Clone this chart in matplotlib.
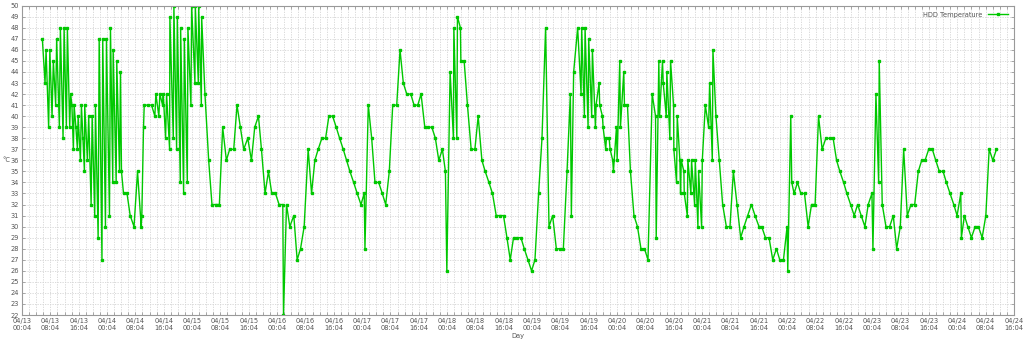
import matplotlib
matplotlib.use("Agg")
import matplotlib.pyplot as plt
from matplotlib.ticker import MultipleLocator, FuncFormatter
from datetime import datetime, timedelta

# hours since 04/13 00:04
hours = [5.74, 6.50, 6.79, 7.52, 7.86, 8.48, 8.85, 9.50, 9.78, 10.55, 10.83, 11.59, 11.88,
         12.53, 12.81, 13.46, 13.74, 14.08, 14.51, 14.71, 15.21, 15.64, 15.84, 16.49, 16.77,
         17.19, 17.62, 17.70, 18.47, 18.83, 19.51, 19.80, 20.53, 20.73, 21.49, 21.78, 22.57,
         22.79, 23.56, 23.84, 24.69, 24.97, 25.62, 25.73, 26.58, 26.75, 27.52, 27.80, 28.08,
         28.65, 29.64, 30.54, 31.62, 32.61, 33.65, 33.82, 34.30, 34.50, 35.63, 36.57, 37.50,
         37.78, 38.63, 38.91, 39.68, 39.87, 40.53, 40.81, 41.66, 41.74, 42.70, 42.87, 43.64,
         43.83, 44.68, 44.77, 45.62, 45.81, 46.66, 46.83, 47.68, 47.88, 48.81, 48.92, 49.77,
         49.86, 50.62, 50.71, 51.64, 52.69, 53.62, 54.67, 55.71, 56.64, 57.69, 58.62, 59.76,
         60.69, 61.65, 62.58, 63.72, 64.76, 65.69, 66.74, 67.59, 68.61, 69.57, 70.50, 71.55,
         72.57, 73.61, 73.81, 74.66, 75.59, 76.72, 77.66, 78.62, 79.64, 80.77, 81.73, 82.66,
         83.60, 84.64, 85.69, 86.62, 87.67, 88.69, 89.65, 90.67, 91.63, 92.56, 93.61, 94.62,
         95.67, 96.60, 96.80, 97.74, 98.70, 99.63, 100.68, 101.69, 102.66, 103.67, 104.64,
         105.77, 106.70, 107.63, 108.60, 109.73, 110.66, 111.71, 112.64, 113.69, 114.70,
         115.67, 116.68, 117.64, 118.66, 119.51, 119.91, 120.84, 121.77, 121.89, 122.74,
         122.91, 123.75, 123.87, 124.80, 125.73, 126.78, 127.83, 128.76, 129.81, 130.74,
         131.79, 132.80, 133.85, 134.90, 135.91, 136.88, 137.81, 138.74, 139.79, 140.83,
         141.77, 142.81, 143.83, 144.79, 145.81, 146.77, 147.79, 148.75, 149.77, 150.82,
         151.75, 152.80, 153.84, 154.78, 155.06, 155.71, 156.84, 157.80, 157.97, 158.74,
         158.93, 159.78, 159.95, 160.80, 161.00, 161.85, 162.04, 162.89, 163.06, 163.83,
         164.02, 164.76, 164.96, 165.72, 166.00, 166.74, 166.94, 167.79, 167.98, 168.72,
         168.92, 169.85, 170.05, 170.90, 171.74, 172.73, 173.72, 174.71, 175.70, 176.69,
         177.88, 178.82, 179.01, 179.75, 179.95, 180.79, 180.99, 181.84, 182.01, 182.86,
         183.06, 183.90, 183.99, 184.75, 184.95, 185.69, 185.88, 186.08, 186.82, 186.93,
         187.78, 187.95, 188.80, 188.99, 189.84, 190.04, 190.78, 190.98, 191.82, 192.02,
         192.87, 193.80, 194.09, 194.85, 195.02, 195.87, 196.83, 197.76, 198.81, 199.83,
         200.79, 201.81, 202.85, 203.79, 204.83, 205.88, 206.90, 208.03, 208.79, 209.84,
         210.86, 211.90, 212.95, 213.88, 214.93, 215.95, 216.14, 216.99, 217.27, 217.93,
         218.89, 219.82, 220.87, 221.89, 222.85, 223.86, 224.83, 225.84, 226.89, 227.94,
         228.95, 229.92, 230.85, 231.90, 232.83, 233.88, 234.89, 235.86, 236.87, 237.92,
         238.85, 239.90, 240.18, 241.03, 241.79, 241.96, 242.81, 243.86, 244.90, 245.92,
         246.88, 247.90, 248.86, 249.88, 250.93, 251.97, 252.99, 253.95, 254.89, 255.93,
         256.95, 257.91, 258.93, 259.98, 260.91, 261.96, 263.00, 263.94, 264.98, 265.15,
         266.00, 266.96, 267.98, 269.03, 269.96, 271.01, 272.05, 272.99, 274.03, 275.05]

temps = [47, 43, 46, 39, 46, 40, 45, 41, 47, 39, 48, 38, 48,
         39, 48, 39, 42, 41, 37, 41, 39, 37, 40, 36, 41,
         38, 35, 41, 36, 40, 32, 40, 31, 41, 29, 47, 27,
         47, 30, 47, 31, 48, 34, 46, 34, 45, 35, 44, 35,
         33, 33, 31, 30, 35, 30, 31, 39, 41, 41, 41, 40,
         42, 40, 42, 41, 42, 38, 42, 37, 49, 38, 50, 37,
         49, 34, 48, 33, 47, 34, 48, 41, 50, 43, 50, 43,
         50, 41, 49, 42, 36, 32, 32, 32, 39, 36, 37, 37,
         41, 39, 37, 38, 36, 39, 40, 37, 33, 35, 33, 33,
         32, 32, 22, 32, 30, 31, 27, 28, 30, 37, 33, 36,
         37, 38, 38, 40, 40, 39, 38, 37, 36, 35, 34, 33,
         32, 33, 28, 41, 38, 34, 34, 33, 32, 35, 41,
         41, 46, 43, 42, 42, 41, 41, 42, 39, 39,
         39, 38, 36, 37, 35, 26, 44, 38, 48, 38,
         49, 48, 45, 45, 41, 37, 37, 40, 36, 35,
         34, 33, 31, 31, 31, 29, 27, 29, 29, 29,
         28, 27, 26, 27, 33, 38, 48, 30, 31, 28,
         28, 28, 35, 42, 31, 44, 48, 42, 48, 40,
         48, 39, 47, 40, 46, 39, 41, 43, 41, 40,
         39, 37, 38, 38, 37, 36, 35, 39, 36, 45,
         39, 44, 41, 41, 35, 31, 30, 28, 28, 27,
         42, 40, 29, 45, 40, 45, 43, 40, 44, 38,
         45, 41, 37, 34, 40, 36, 33, 36, 35, 33,
         31, 36, 33, 36, 32, 36, 30, 35, 30, 36,
         41, 39, 43, 36, 46, 40, 36, 32, 30, 30,
         35, 32, 29, 30, 31, 32, 31, 30, 30, 29,
         29, 27, 28, 27, 27, 30, 26, 40, 34, 33,
         34, 33, 33, 30, 32, 32, 40, 37, 38, 38,
         38, 36, 35, 34, 33, 32, 31, 32, 31, 30,
         32, 33, 28, 42, 34, 45, 32, 30, 30, 31,
         28, 30, 37, 31, 32, 32, 35, 36, 36, 37,
         37, 36, 35, 35, 34, 33, 32, 31, 33, 29,
         31, 30, 29, 30, 30, 29, 31, 37, 36, 37]

start = datetime(2022, 4, 13, 0, 4)
green = '#00c800'
txt = '#555555'

fig = plt.figure(figsize=(10.24, 3.41), dpi=100)
ax = fig.add_axes([22/1024, 1-315/341, 992/1024, 309.3/341])

ax.plot(hours, temps, color=green, lw=1.0, marker='s', ms=1.7, mec=green, mfc=green,
        label='HDD Temperature')

ax.set_xlim(0, 280)
ax.set_ylim(22, 50)
ax.xaxis.set_major_locator(MultipleLocator(8))
ax.xaxis.set_minor_locator(MultipleLocator(2))
ax.yaxis.set_major_locator(MultipleLocator(1))

def fmt(h, pos):
    t = start + timedelta(hours=h)
    return t.strftime('%m/%d\n%H:%M')

ax.xaxis.set_major_formatter(FuncFormatter(fmt))

ax.grid(which='both', color='#d4d4d4', ls=(0, (1.5, 1.5)), lw=0.6)
ax.set_axisbelow(True)
ax.tick_params(which='both', direction='in', top=True, right=True, length=2.5,
               width=0.6, color='#999999', labelsize=4.8, labelcolor=txt, pad=2)
ax.tick_params(axis='x', pad=2)
for s in ax.spines.values():
    s.set_color('#999999')
    s.set_linewidth(0.8)

ax.set_xlabel('Day', fontsize=4.8, color=txt, va='center')
ax.xaxis.set_label_coords(0.5, -21/309)
ax.set_ylabel('°C', fontsize=4.8, color=txt, rotation=0, va='center', ha='center')
ax.yaxis.set_label_coords(-16/992, 0.5)

ax.legend(loc='upper right', frameon=False, fontsize=4.8, labelcolor=txt,
          markerfirst=False, handlelength=3, borderaxespad=0.5)

fig.savefig('out.png', dpi=100)
